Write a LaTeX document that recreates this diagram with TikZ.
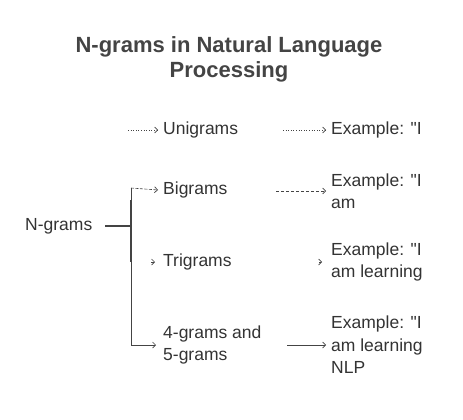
\documentclass[tikz,border=0pt]{standalone}
\usepackage{fontspec}
\setmainfont{Liberation Sans}[Ligatures=TeXOff]
\usetikzlibrary{arrows.meta}
\definecolor{txt}{HTML}{333333}
\definecolor{ttl}{HTML}{444444}
\definecolor{ln}{HTML}{444444}
\tikzset{
  lbl/.style={inner sep=0pt, anchor=west, text=txt, align=left, font=\fontsize{17.5}{22.5}\selectfont},
  ttlstyle/.style={inner sep=0pt, text=ttl, align=center, font=\fontsize{22}{25}\selectfont\bfseries},
  tip/.style={-{Straight Barb[length=3pt,width=6pt,line width=0.7pt]}},
  edge/.style={draw=ln, line width=0.6pt, tip},
}
\begin{document}
\begin{tikzpicture}[x=1pt,y=-1pt]
\useasboundingbox (0,0) rectangle (463,420);
\node[ttlstyle] (title) at (229,59) {N-grams in Natural Language\\Processing};
\node[lbl] (ng) at (25,226) {N-grams};
\node[lbl] (uni) at (163,130) {Unigrams};
\node[lbl] (bi) at (163,190) {Bigrams};
\node[lbl] (tri) at (163,262) {Trigrams};
\node[lbl] (four) at (163,345) {4-grams and\\5-grams};
\node[lbl] (ex1) at (331,130) {Example: "I};
\node[lbl] (ex2) at (331,191) {Example: "I\\am};
\node[lbl] (ex3) at (331,262) {Example: "I\\am learning};
\node[lbl] (ex4) at (331,345) {Example: "I\\am learning\\NLP};
\coordinate (j0) at (105,226);
\coordinate (j) at (131,226);
\coordinate (jtop) at (131,188);
\coordinate (jbot) at (131,345);
\coordinate (ju) at (128,130);
\coordinate (jt) at (151,262);
\coordinate (et) at (319,262);
\coordinate (e1) at (283,130);
\coordinate (e2) at (276,191);
\coordinate (e4) at (287,345);
% trunk
\draw[draw=ln, line width=1.6pt] (j0) -- (j);
\draw[draw=ln, line width=1.6pt] (131,200) -- (131,262);
\draw[draw=ln, line width=0.6pt] (jtop) -- (jbot);
% branches
\draw[edge, dotted] (ju) -- ([xshift=-5pt]uni.west);
\draw[edge, dash pattern=on 3pt off 1.5pt] (jtop) -- ([xshift=-5pt]bi.west);
\draw[edge] (jt) -- ([xshift=-8pt]tri.west);
\draw[edge] (jbot) -- ([xshift=-7pt]four.west);
% to examples
\draw[edge, dotted] (e1) -- ([xshift=-5pt]ex1.west);
\draw[edge, dash pattern=on 3pt off 2pt] (e2) -- ([xshift=-5pt]ex2.west);
\draw[edge] (et) -- ([xshift=-9pt]ex3.west);
\draw[edge] (e4) -- ([xshift=-5pt]ex4.west);
\end{tikzpicture}
\end{document}
